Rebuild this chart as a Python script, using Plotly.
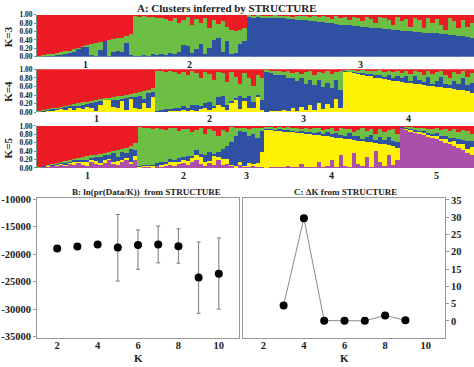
import plotly.graph_objects as go

W, H = 474, 367
FONT = "'Liberation Serif', 'Times New Roman', serif"

# ---------------- Panel A data (membership coefficients per individual) ----------------
K3_SIZES = [22, 26, 52]
K3_LABELS = ["1", "2", "3"]
K3_RED = [0.98,0.96,0.94,0.93,0.91,0.89,0.87,0.85,0.82,0.78,0.74,0.71,0.68,0.66,0.64,0.62,0.60,0.58,0.56,0.54,0.51,0.45,
          0.01,0.03,0.02,0.05,0.04,0.08,0.06,0.10,0.15,0.08,0.20,0.12,0.05,0.25,0.10,0.18,0.08,0.30,0.12,0.22,0.15,0.28,0.35,0.38,0.35,0.30,
          0.00,0.01,0.00,0.01,0.02,0.01,0.00,0.01,0.02,0.01,0.03,0.02,0.01,0.02,0.04,0.02,0.03,0.01,0.05,0.10,0.02,0.08,0.04,0.12,0.03,0.06,
          0.15,0.05,0.10,0.20,0.04,0.08,0.12,0.25,0.05,0.15,0.10,0.28,0.06,0.12,0.30,0.08,0.18,0.10,0.25,0.35,0.08,0.15,0.30,0.12,0.28,0.20]
K3_BLUE = [0.01,0.02,0.03,0.04,0.06,0.05,0.08,0.10,0.14,0.20,0.25,0.24,0.05,0.02,0.17,0.38,0.03,0.12,0.15,0.12,0.33,0.05,
           0.02,0.03,0.04,0.03,0.06,0.05,0.08,0.04,0.10,0.06,0.12,0.28,0.27,0.10,0.20,0.32,0.08,0.22,0.40,0.45,0.12,0.38,0.06,0.10,0.30,0.38,
           0.96,0.95,0.95,0.94,0.94,0.93,0.93,0.92,0.92,0.91,0.90,0.89,0.88,0.87,0.86,0.85,0.84,0.83,0.82,0.80,0.79,0.77,0.76,0.75,0.74,0.73,
           0.72,0.71,0.70,0.69,0.68,0.67,0.66,0.65,0.64,0.63,0.62,0.61,0.60,0.59,0.58,0.57,0.56,0.56,0.55,0.54,0.53,0.52,0.51,0.50,0.48,0.46]

K4_SIZES = [27, 25, 18, 30]
K4_LABELS = ["1", "2", "3", "4"]
K4_RED = [0.98,0.96,0.94,0.92,0.90,0.88,0.86,0.84,0.82,0.80,0.78,0.76,0.74,0.72,0.70,0.68,0.67,0.65,0.63,0.62,0.60,0.58,0.56,0.54,0.52,0.49,0.44,
          0.05,0.03,0.06,0.04,0.08,0.12,0.06,0.15,0.05,0.10,0.20,0.08,0.12,0.25,0.06,0.10,0.30,0.08,0.18,0.35,0.10,0.22,0.40,0.15,0.20,
          0.02,0.05,0.03,0.04,0.08,0.05,0.10,0.06,0.12,0.08,0.05,0.15,0.06,0.10,0.04,0.12,0.08,0.05,
          0.01,0.02,0.01,0.03,0.02,0.04,0.03,0.05,0.02,0.06,0.04,0.08,0.03,0.10,0.05,0.12,0.04,0.06,0.15,0.05,0.12,0.08,0.04,0.15,0.20,0.06,0.12,0.05,0.18,0.10]
K4_YELLOW = [0.01,0.02,0.03,0.04,0.05,0.06,0.04,0.08,0.05,0.10,0.06,0.12,0.08,0.03,0.15,0.28,0.30,0.12,0.08,0.25,0.05,0.32,0.10,0.06,0.20,0.08,0.35,
             0.00,0.01,0.02,0.01,0.03,0.02,0.04,0.03,0.05,0.02,0.06,0.10,0.04,0.08,0.15,0.12,0.05,0.20,0.30,0.06,0.25,0.10,0.08,0.35,0.05,
             0.00,0.02,0.01,0.03,0.05,0.02,0.08,0.03,0.12,0.04,0.15,0.05,0.20,0.06,0.18,0.08,0.30,0.10,
             0.95,0.93,0.91,0.89,0.87,0.85,0.83,0.81,0.79,0.77,0.75,0.73,0.71,0.70,0.68,0.67,0.65,0.64,0.62,0.61,0.60,0.58,0.57,0.56,0.55,0.53,0.52,0.50,0.48,0.45]
K4_BLUE = [0.00,0.01,0.02,0.03,0.04,0.05,0.08,0.06,0.10,0.06,0.12,0.08,0.15,0.20,0.10,0.02,0.00,0.15,0.20,0.05,0.28,0.02,0.25,0.30,0.10,0.35,0.12,
           0.02,0.03,0.04,0.06,0.05,0.08,0.10,0.06,0.12,0.15,0.08,0.10,0.18,0.06,0.20,0.25,0.10,0.05,0.02,0.30,0.08,0.28,0.15,0.05,0.22,
           0.92,0.88,0.85,0.82,0.80,0.76,0.72,0.70,0.66,0.62,0.60,0.58,0.55,0.52,0.50,0.48,0.45,0.42,
           0.01,0.02,0.03,0.02,0.04,0.03,0.06,0.04,0.08,0.05,0.10,0.06,0.12,0.08,0.15,0.05,0.18,0.10,0.08,0.20,0.06,0.15,0.25,0.10,0.08,0.20,0.12,0.30,0.15,0.22]

K5_SIZES = [23, 21, 8, 31, 17]
K5_LABELS = ["1", "2", "3", "4", "5"]
K5_RED = [0.97,0.95,0.92,0.90,0.88,0.85,0.83,0.80,0.78,0.76,0.74,0.72,0.70,0.68,0.66,0.64,0.62,0.60,0.58,0.56,0.52,0.48,0.40,
          0.02,0.05,0.03,0.08,0.04,0.06,0.10,0.05,0.03,0.12,0.06,0.08,0.15,0.10,0.05,0.20,0.08,0.12,0.25,0.10,0.15,
          0.02,0.05,0.03,0.04,0.06,0.05,0.04,0.03,
          0.02,0.01,0.03,0.02,0.04,0.02,0.05,0.03,0.06,0.04,0.08,0.05,0.03,0.10,0.06,0.04,0.12,0.05,0.08,0.06,0.15,0.10,0.05,0.12,0.08,0.20,0.06,0.15,0.10,0.08,0.18,
          0.01,0.02,0.02,0.03,0.05,0.04,0.06,0.08,0.05,0.10,0.08,0.12,0.06,0.15,0.10,0.12,0.20]
K5_MAGENTA = [0.02,0.03,0.04,0.06,0.05,0.08,0.04,0.10,0.06,0.12,0.08,0.05,0.15,0.10,0.08,0.12,0.20,0.10,0.06,0.15,0.18,0.10,0.20,
              0.02,0.03,0.04,0.02,0.05,0.03,0.06,0.08,0.05,0.10,0.12,0.06,0.15,0.20,0.10,0.05,0.12,0.08,0.18,0.06,0.10,
              0.05,0.02,0.08,0.03,0.02,0.05,0.03,0.02,
              0.01,0.02,0.02,0.03,0.02,0.05,0.02,0.03,0.10,0.02,0.03,0.02,0.15,0.03,0.05,0.20,0.02,0.30,0.05,0.03,0.35,0.10,0.05,0.25,0.03,0.40,0.15,0.05,0.30,0.08,0.20,
              0.96,0.92,0.88,0.85,0.82,0.78,0.75,0.72,0.68,0.64,0.60,0.56,0.52,0.48,0.42,0.36,0.30]
K5_YELLOW = [0.00,0.01,0.02,0.01,0.03,0.02,0.05,0.03,0.08,0.04,0.05,0.10,0.03,0.06,0.04,0.08,0.02,0.05,0.10,0.03,0.06,0.04,0.08,
             0.01,0.02,0.01,0.03,0.02,0.04,0.03,0.05,0.08,0.04,0.06,0.10,0.08,0.12,0.15,0.10,0.05,0.20,0.08,0.15,0.12,
             0.02,0.03,0.05,0.02,0.10,0.04,0.08,0.35,
             0.91,0.89,0.88,0.86,0.86,0.82,0.84,0.81,0.73,0.80,0.77,0.77,0.63,0.73,0.70,0.54,0.70,0.41,0.65,0.65,0.32,0.55,0.59,0.37,0.58,0.19,0.43,0.51,0.24,0.44,0.28,
             0.01,0.02,0.03,0.02,0.04,0.05,0.03,0.06,0.08,0.05,0.10,0.06,0.12,0.08,0.15,0.10,0.20]
K5_BLUE = [0.00,0.01,0.01,0.02,0.03,0.02,0.04,0.03,0.05,0.04,0.06,0.05,0.08,0.10,0.15,0.12,0.08,0.20,0.10,0.22,0.12,0.30,0.15,
           0.01,0.02,0.03,0.02,0.04,0.06,0.05,0.08,0.06,0.10,0.08,0.12,0.05,0.10,0.08,0.15,0.20,0.06,0.12,0.25,0.30,
           0.55,0.70,0.75,0.80,0.65,0.72,0.60,0.50,
           0.01,0.02,0.01,0.03,0.02,0.04,0.03,0.02,0.05,0.03,0.06,0.04,0.08,0.05,0.10,0.06,0.12,0.08,0.05,0.15,0.08,0.10,0.06,0.12,0.18,0.08,0.15,0.10,0.20,0.12,0.15,
           0.01,0.02,0.03,0.04,0.02,0.05,0.06,0.04,0.08,0.06,0.05,0.10,0.08,0.12,0.10,0.18,0.15]

# ---------------- Panel B / C data ----------------
B_K = [2, 3, 4, 5, 6, 7, 8, 9, 10]
B_LNP = [-19000, -18600, -18250, -18800, -18350, -18250, -18550, -24250, -23550]
B_ERR_UP = [0, 0, 0, 6000, 2750, 3350, 3150, 6450, 6500]
B_ERR_DN = [0, 0, 0, 6100, 4400, 3350, 3100, 6500, 6450]

C_K = [3, 4, 5, 6, 7, 8, 9]
C_DK = [4.5, 29.7, 0.1, 0.05, 0.05, 1.6, 0.2]

COL = {"red": "#ED1C24", "green": "#6DBE45", "blue": "#3050A3",
       "yellow": "#FFF200", "magenta": "#AA4FAA"}

def px_x(p):
    return p / W

def px_y(p):
    return 1 - p / H

fig = go.Figure()

def remainder(*comps):
    return [round(max(0.0, 1 - sum(v)), 3) for v in zip(*comps)]

K3_GREEN = remainder(K3_RED, K3_BLUE)
K4_GREEN = remainder(K4_RED, K4_YELLOW, K4_BLUE)
K5_GREEN = remainder(K5_RED, K5_MAGENTA, K5_YELLOW, K5_BLUE)

panels = [
    ("x", "y", [("blue", K3_BLUE), ("green", K3_GREEN), ("red", K3_RED)]),
    ("x2", "y2", [("yellow", K4_YELLOW), ("blue", K4_BLUE), ("green", K4_GREEN), ("red", K4_RED)]),
    ("x3", "y3", [("magenta", K5_MAGENTA), ("yellow", K5_YELLOW), ("blue", K5_BLUE), ("green", K5_GREEN), ("red", K5_RED)]),
]
for xa, ya, comps in panels:
    n = len(comps[0][1])
    for cname, vals in comps:
        fig.add_trace(go.Bar(x=list(range(n)), y=vals, xaxis=xa, yaxis=ya,
                             marker=dict(color=COL[cname], line=dict(width=0)),
                             width=1.02, showlegend=False, hoverinfo="skip"))

fig.add_trace(go.Scatter(x=B_K, y=B_LNP, xaxis="x4", yaxis="y4", mode="markers",
                         marker=dict(color="black", size=8),
                         error_y=dict(type="data", array=B_ERR_UP, arrayminus=B_ERR_DN,
                                      color="#7a7a7a", thickness=1, width=2),
                         showlegend=False))
fig.add_trace(go.Scatter(x=C_K, y=C_DK, xaxis="x5", yaxis="y5", mode="lines+markers",
                         line=dict(color="#8a8a8a", width=1),
                         marker=dict(color="black", size=8), showlegend=False))

tf = dict(family=FONT, size=7.5, color="#222", weight="bold")
bar_y = dict(range=[0, 1], tickvals=[0, 0.2, 0.4, 0.6, 0.8, 1.0],
             ticktext=["0.00", "0.20", "0.40", "0.60", "0.80", "1.00"],
             tickfont=tf, showline=True, linecolor="#888", linewidth=1,
             ticks="outside", ticklen=2, tickcolor="#888", showgrid=False,
             zeroline=False, fixedrange=True)
bar_x = dict(range=[-0.5, 99.5], visible=False, fixedrange=True)

doms = [(11, 54), (67, 111), (125, 168)]
layout = dict(width=W, height=H, margin=dict(l=0, r=0, t=0, b=0),
              paper_bgcolor="white", plot_bgcolor="white",
              barmode="stack", bargap=0, showlegend=False)
for i, (top, bot) in enumerate(doms):
    sx = "" if i == 0 else str(i + 1)
    layout["xaxis" + sx] = dict(bar_x, domain=[px_x(37), 1.0], anchor="y" + sx)
    layout["yaxis" + sx] = dict(bar_y, domain=[px_y(bot), px_y(top)], anchor="x" + sx)

sf = dict(family=FONT, size=10.5, color="#222", weight="bold")
layout["xaxis4"] = dict(domain=[px_x(37), px_x(239)], anchor="y4", range=[1, 11],
                        tickvals=[2, 4, 6, 8, 10], tickfont=sf, showline=True, mirror=True,
                        linecolor="#999", linewidth=1, ticks="", showgrid=False, zeroline=False,
                        ticklabelstandoff=-2)
layout["yaxis4"] = dict(domain=[px_y(342), px_y(199)], anchor="x4", range=[-35180, -9820],
                        tickvals=[-10000, -15000, -20000, -25000, -30000, -35000],
                        ticktext=["-10000", "-15000", "-20000", "-25000", "-30000", "-35000"],
                        tickfont=sf, showline=True, mirror=True, linecolor="#999", linewidth=1,
                        ticks="outside", ticklen=3, tickcolor="#999", showgrid=False, zeroline=False)
layout["xaxis5"] = dict(domain=[px_x(243), px_x(445)], anchor="y5", range=[1, 10.95],
                        tickvals=[2, 4, 6, 8, 10], tickfont=sf, showline=True, mirror=True,
                        linecolor="#999", linewidth=1, ticks="", showgrid=False, zeroline=False,
                        ticklabelstandoff=-2)
layout["yaxis5"] = dict(domain=[px_y(342), px_y(199)], anchor="x5", range=[-4.8, 35.5], side="right",
                        tickvals=[0, 5, 10, 15, 20, 25, 30, 35], tickfont=sf, showline=True, mirror=True,
                        linecolor="#999", linewidth=1, ticks="outside", ticklen=3, tickcolor="#999",
                        showgrid=False, zeroline=False)

ann = []
tfont = dict(family=FONT, size=11, color="#222", weight="bold")
ann.append(dict(text="A: Clusters inferred by STRUCTURE", x=px_x(226), y=px_y(4), xref="paper", yref="paper",
                showarrow=False, font=tfont, xanchor="center", yanchor="middle"))
ann.append(dict(text="B: ln(pr(Data/K))  from STRUCTURE", x=px_x(146), y=px_y(193), xref="paper", yref="paper",
                showarrow=False, font=dict(tfont, size=9), xanchor="center", yanchor="middle"))
ann.append(dict(text="C: ΔK from STRUCTURE", x=px_x(345), y=px_y(193), xref="paper", yref="paper",
                showarrow=False, font=dict(tfont, size=9), xanchor="center", yanchor="middle"))
# x-axis titles "K" for panels B and C
for xc in (138, 344):
    ann.append(dict(text="K", x=px_x(xc), y=px_y(362.5), xref="paper", yref="paper",
                    showarrow=False, font=dict(tfont, size=11), xanchor="center", yanchor="middle"))

klabels = [("K=3", 33), ("K=4", 89), ("K=5", 147)]
for t, yy in klabels:
    ann.append(dict(text=t, x=px_x(8), y=px_y(yy), xref="paper", yref="paper", textangle=-90,
                    showarrow=False, font=dict(tfont, size=11), xanchor="center", yanchor="middle"))

group_rows = [(K3_SIZES, K3_LABELS, "x", 62), (K4_SIZES, K4_LABELS, "x2", 117), (K5_SIZES, K5_LABELS, "x3", 176)]
for sizes, labels, xa, yy in group_rows:
    start = 0
    for s, lab in zip(sizes, labels):
        ann.append(dict(text=lab, x=start + s / 2 - 0.5, y=px_y(yy), xref=xa, yref="paper",
                        showarrow=False, font=dict(tfont, size=10), xanchor="center", yanchor="middle"))
        start += s

layout["annotations"] = ann
fig.update_layout(**layout)
fig.write_html("out.html", config={"displayModeBar": False},
               post_script="document.body.style.margin='0';document.body.style.padding='0';")
